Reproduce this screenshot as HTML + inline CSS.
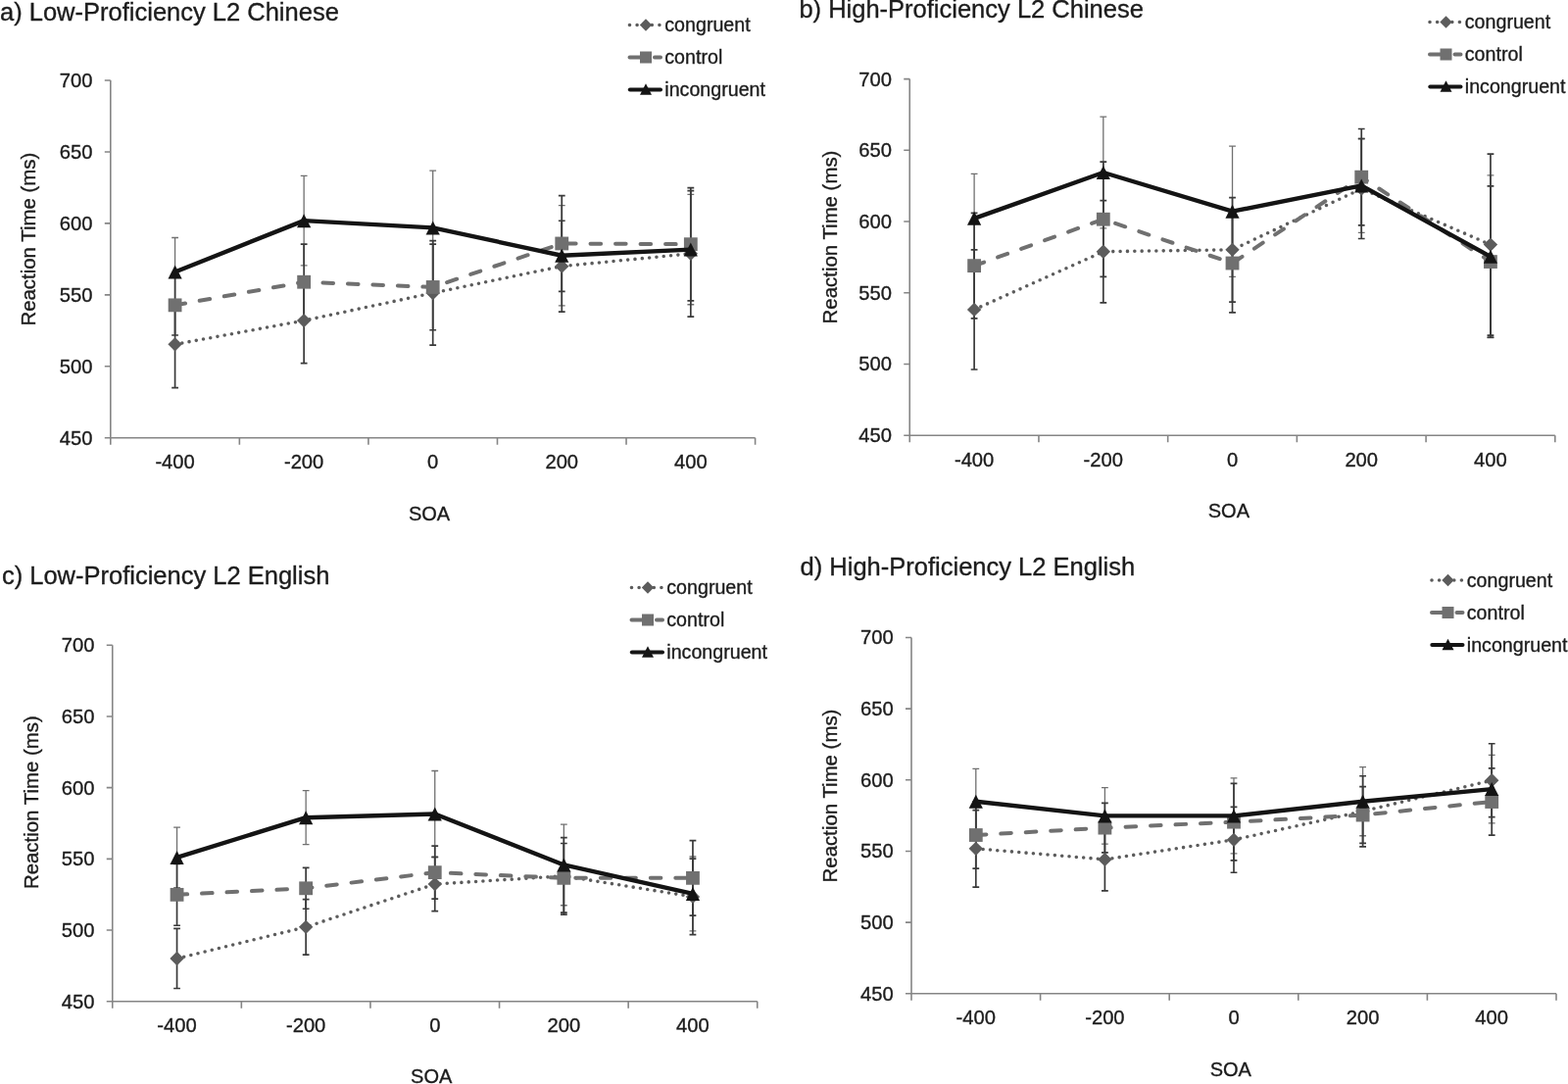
<!DOCTYPE html>
<html><head><meta charset="utf-8"><title>Reaction Time by SOA</title>
<style>
html,body{margin:0;padding:0;background:#fff;}
body{width:1600px;height:1106px;overflow:hidden;}
svg{display:block;}
text{font-family:"Liberation Sans", Arial, Helvetica, sans-serif;font-size:20px;fill:#1c1c1c;stroke:#1c1c1c;stroke-width:0.35px;}
.t{font-size:25.5px;}
.yl{font-size:20.4px;}
.tk{font-size:20.2px;}
.lg{font-size:19.65px;}
</style></head><body>
<svg width="1600" height="1106" viewBox="0 0 1600 1106">
<rect width="1600" height="1106" fill="#fff"/>
<g id="pa"><text x="0" y="20.6" class="t">a) Low-Proficiency L2 Chinese</text>
<path d="M112.8 82V446.75H770.6" fill="none" stroke="#858585" stroke-width="1.6"/>
<path d="M106.8 446.75H112.8 M106.8 373.8H112.8 M106.8 300.85H112.8 M106.8 227.9H112.8 M106.8 154.95H112.8 M106.8 82H112.8 M112.8 446.75V453.75 M244.36 446.75V453.75 M375.92 446.75V453.75 M507.48 446.75V453.75 M639.04 446.75V453.75 M770.6 446.75V453.75" fill="none" stroke="#858585" stroke-width="1.6"/>
<text x="94.5" y="453.65" text-anchor="end" class="tk">450</text>
<text x="94.5" y="380.7" text-anchor="end" class="tk">500</text>
<text x="94.5" y="307.75" text-anchor="end" class="tk">550</text>
<text x="94.5" y="234.8" text-anchor="end" class="tk">600</text>
<text x="94.5" y="161.85" text-anchor="end" class="tk">650</text>
<text x="94.5" y="88.9" text-anchor="end" class="tk">700</text>
<text x="178.58" y="478.05" text-anchor="middle" class="tk">-400</text>
<text x="310.14" y="478.05" text-anchor="middle" class="tk">-200</text>
<text x="441.7" y="478.05" text-anchor="middle" class="tk">0</text>
<text x="573.26" y="478.05" text-anchor="middle" class="tk">200</text>
<text x="704.82" y="478.05" text-anchor="middle" class="tk">400</text>
<text transform="translate(36.4 244.2) rotate(-90)" x="0" y="0" text-anchor="middle" class="yl">Reaction Time (ms)</text>
<text x="438.1" y="530.9" text-anchor="middle">SOA</text>
<path d="M178.58 242.49V312.52M175.18 242.49H181.98M175.18 312.52H181.98 M310.14 179.46V270.79M306.74 179.46H313.54M306.74 270.79H313.54 M441.7 174.06V290.78M438.3 174.06H445.1M438.3 290.78H445.1 M573.26 209.66V311.79M569.86 209.66H576.66M569.86 311.79H576.66 M704.82 198.43V310.77M701.42 198.43H708.22M701.42 310.77H708.22" fill="none" stroke="#707070" stroke-width="1.3"/>
<path d="M178.58 280.72V341.99M175.18 280.72H181.98M175.18 341.99H181.98 M310.14 249.2V326.24M306.74 249.2H313.54M306.74 326.24H313.54 M441.7 249.2V336.74M438.3 249.2H445.1M438.3 336.74H445.1 M573.26 199.6V297.35M569.86 199.6H576.66M569.86 297.35H576.66 M704.82 191.57V306.83M701.42 191.57H708.22M701.42 306.83H708.22" fill="none" stroke="#3a3a3a" stroke-width="1.7"/>
<path d="M178.58 306.98V395.69M175.18 306.98H181.98M175.18 395.69H181.98 M310.14 283.63V370.59M306.74 283.63H313.54M306.74 370.59H313.54 M441.7 245.7V352.21M438.3 245.7H445.1M438.3 352.21H445.1 M573.26 225.27V318.07M569.86 225.27H576.66M569.86 318.07H576.66 M704.82 194.63V323.03M701.42 194.63H708.22M701.42 323.03H708.22" fill="none" stroke="#3a3a3a" stroke-width="1.7"/>
<polyline points="178.58,351.33 310.14,327.11 441.7,298.95 573.26,271.67 704.82,258.83" fill="none" stroke="#5c5c5c" stroke-width="3.6" stroke-linecap="round" stroke-dasharray="0 7.35"/>
<path d="M178.58 344.13L185.78 351.33L178.58 358.53L171.38 351.33Z" fill="#5c5c5c"/><path d="M310.14 319.91L317.34 327.11L310.14 334.31L302.94 327.11Z" fill="#5c5c5c"/><path d="M441.7 291.75L448.9 298.95L441.7 306.15L434.5 298.95Z" fill="#5c5c5c"/><path d="M573.26 264.47L580.46 271.67L573.26 278.87L566.06 271.67Z" fill="#5c5c5c"/><path d="M704.82 251.63L712.02 258.83L704.82 266.03L697.62 258.83Z" fill="#5c5c5c"/>
<polyline points="178.58,311.35 310.14,287.72 441.7,292.97 573.26,248.47 704.82,249.2" fill="none" stroke="#707070" stroke-width="4" stroke-linecap="round" stroke-dasharray="10.6 14.9"/>
<rect x="171.68" y="304.45" width="13.8" height="13.8" fill="#707070"/><rect x="303.24" y="280.82" width="13.8" height="13.8" fill="#707070"/><rect x="434.8" y="286.07" width="13.8" height="13.8" fill="#707070"/><rect x="566.36" y="241.57" width="13.8" height="13.8" fill="#707070"/><rect x="697.92" y="242.3" width="13.8" height="13.8" fill="#707070"/>
<polyline points="178.58,277.51 310.14,225.13 441.7,232.42 573.26,260.73 704.82,254.6" fill="none" stroke="#141414" stroke-width="4.4" stroke-linejoin="round"/>
<path d="M178.58 270.51L185.68 284.51L171.48 284.51Z" fill="#141414"/><path d="M310.14 218.13L317.24 232.13L303.04 232.13Z" fill="#141414"/><path d="M441.7 225.42L448.8 239.42L434.6 239.42Z" fill="#141414"/><path d="M573.26 253.73L580.36 267.73L566.16 267.73Z" fill="#141414"/><path d="M704.82 247.6L711.92 261.6L697.72 261.6Z" fill="#141414"/>
<path d="M642.5 25.5H674" stroke="#5c5c5c" stroke-width="3.6" stroke-linecap="round" stroke-dasharray="0 7.6"/>
<path d="M659 19.3L665.2 25.5L659 31.7L652.8 25.5Z" fill="#5c5c5c"/>
<text x="678.3" y="32" class="lg">congruent</text>
<path d="M642.5 58.5H655M668 58.5H674" stroke="#707070" stroke-width="4" stroke-linecap="round"/>
<rect x="653" y="52.5" width="12" height="12" fill="#707070"/>
<text x="678.3" y="65" class="lg">control</text>
<path d="M642.8 91.5H674" stroke="#141414" stroke-width="4" stroke-linecap="round"/>
<path d="M659 85.15L665 96.65L653 96.65Z" fill="#141414"/>
<text x="678.3" y="98" class="lg">incongruent</text></g>
<g id="pb"><text x="815.4" y="18" class="t">b) High-Proficiency L2 Chinese</text>
<path d="M928.25 80.6V444.2H1586.8" fill="none" stroke="#858585" stroke-width="1.6"/>
<path d="M922.25 444.2H928.25 M922.25 371.48H928.25 M922.25 298.76H928.25 M922.25 226.04H928.25 M922.25 153.32H928.25 M922.25 80.6H928.25 M928.25 444.2V451.2 M1059.96 444.2V451.2 M1191.67 444.2V451.2 M1323.38 444.2V451.2 M1455.09 444.2V451.2 M1586.8 444.2V451.2" fill="none" stroke="#858585" stroke-width="1.6"/>
<text x="909.95" y="451.1" text-anchor="end" class="tk">450</text>
<text x="909.95" y="378.38" text-anchor="end" class="tk">500</text>
<text x="909.95" y="305.66" text-anchor="end" class="tk">550</text>
<text x="909.95" y="232.94" text-anchor="end" class="tk">600</text>
<text x="909.95" y="160.22" text-anchor="end" class="tk">650</text>
<text x="909.95" y="87.5" text-anchor="end" class="tk">700</text>
<text x="994.11" y="475.5" text-anchor="middle" class="tk">-400</text>
<text x="1125.82" y="475.5" text-anchor="middle" class="tk">-200</text>
<text x="1257.53" y="475.5" text-anchor="middle" class="tk">0</text>
<text x="1389.23" y="475.5" text-anchor="middle" class="tk">200</text>
<text x="1520.94" y="475.5" text-anchor="middle" class="tk">400</text>
<text transform="translate(854.2 242) rotate(-90)" x="0" y="0" text-anchor="middle" class="yl">Reaction Time (ms)</text>
<text x="1253.9" y="527.5" text-anchor="middle">SOA</text>
<path d="M994.11 177.32V268.36M990.71 177.32H997.5M990.71 268.36H997.5 M1125.82 119.14V232.88M1122.41 119.14H1129.22M1122.41 232.88H1129.22 M1257.53 149.1V282.33M1254.12 149.1H1260.93M1254.12 282.33H1260.93 M1389.23 141.39V237.38M1385.83 141.39H1392.63M1385.83 237.38H1392.63 M1520.94 178.92V344.72M1517.54 178.92H1524.35M1517.54 344.72H1524.35" fill="none" stroke="#707070" stroke-width="1.3"/>
<path d="M994.11 217.31V324.94M990.71 217.31H997.5M990.71 324.94H997.5 M1125.82 165.1V282.33M1122.41 165.1H1129.22M1122.41 282.33H1129.22 M1257.53 218.19V318.83M1254.12 218.19H1260.93M1254.12 318.83H1260.93 M1389.23 131.5V229.82M1385.83 131.5H1392.63M1385.83 229.82H1392.63 M1520.94 189.97V344.14M1517.54 189.97H1524.35M1517.54 344.14H1524.35" fill="none" stroke="#3a3a3a" stroke-width="1.7"/>
<path d="M994.11 254.84V377.01M990.71 254.84H997.5M990.71 377.01H997.5 M1125.82 204.66V308.8M1122.41 204.66H1129.22M1122.41 308.8H1129.22 M1257.53 201.61V308.07M1254.12 201.61H1260.93M1254.12 308.07H1260.93 M1389.23 141.68V243.49M1385.83 141.68H1392.63M1385.83 243.49H1392.63 M1520.94 157.1V342.1M1517.54 157.1H1524.35M1517.54 342.1H1524.35" fill="none" stroke="#3a3a3a" stroke-width="1.7"/>
<polyline points="994.11,315.92 1125.82,256.73 1257.53,254.84 1389.23,192.59 1520.94,249.6" fill="none" stroke="#5c5c5c" stroke-width="3.6" stroke-linecap="round" stroke-dasharray="0 7.35"/>
<path d="M994.11 308.72L1001.31 315.92L994.11 323.12L986.9 315.92Z" fill="#5c5c5c"/><path d="M1125.82 249.53L1133.02 256.73L1125.82 263.93L1118.62 256.73Z" fill="#5c5c5c"/><path d="M1257.53 247.64L1264.73 254.84L1257.53 262.04L1250.33 254.84Z" fill="#5c5c5c"/><path d="M1389.23 185.39L1396.43 192.59L1389.23 199.79L1382.03 192.59Z" fill="#5c5c5c"/><path d="M1520.94 242.4L1528.14 249.6L1520.94 256.8L1513.74 249.6Z" fill="#5c5c5c"/>
<polyline points="994.11,271.13 1125.82,223.71 1257.53,268.51 1389.23,180.66 1520.94,267.05" fill="none" stroke="#707070" stroke-width="4" stroke-linecap="round" stroke-dasharray="10.6 14.9"/>
<rect x="987.21" y="264.23" width="13.8" height="13.8" fill="#707070"/><rect x="1118.91" y="216.81" width="13.8" height="13.8" fill="#707070"/><rect x="1250.62" y="261.61" width="13.8" height="13.8" fill="#707070"/><rect x="1382.33" y="173.76" width="13.8" height="13.8" fill="#707070"/><rect x="1514.04" y="260.15" width="13.8" height="13.8" fill="#707070"/>
<polyline points="994.11,222.84 1125.82,176.01 1257.53,215.71 1389.23,189.39 1520.94,261.82" fill="none" stroke="#141414" stroke-width="4.4" stroke-linejoin="round"/>
<path d="M994.11 215.84L1001.21 229.84L987 229.84Z" fill="#141414"/><path d="M1125.82 169.01L1132.91 183.01L1118.72 183.01Z" fill="#141414"/><path d="M1257.53 208.71L1264.62 222.71L1250.43 222.71Z" fill="#141414"/><path d="M1389.23 182.39L1396.33 196.39L1382.13 196.39Z" fill="#141414"/><path d="M1520.94 254.82L1528.04 268.82L1513.85 268.82Z" fill="#141414"/>
<path d="M1459 22.5H1490.5" stroke="#5c5c5c" stroke-width="3.6" stroke-linecap="round" stroke-dasharray="0 7.6"/>
<path d="M1475.5 16.3L1481.7 22.5L1475.5 28.7L1469.3 22.5Z" fill="#5c5c5c"/>
<text x="1494.8" y="29" class="lg">congruent</text>
<path d="M1459 55.5H1471.5M1484.5 55.5H1490.5" stroke="#707070" stroke-width="4" stroke-linecap="round"/>
<rect x="1469.5" y="49.5" width="12" height="12" fill="#707070"/>
<text x="1494.8" y="62" class="lg">control</text>
<path d="M1459.3 88.5H1490.5" stroke="#141414" stroke-width="4" stroke-linecap="round"/>
<path d="M1475.5 82.15L1481.5 93.65L1469.5 93.65Z" fill="#141414"/>
<text x="1494.8" y="95" class="lg">incongruent</text></g>
<g id="pc"><text x="1.9" y="595.75" class="t">c) Low-Proficiency L2 English</text>
<path d="M114.75 658.25V1021.75H772.75" fill="none" stroke="#858585" stroke-width="1.6"/>
<path d="M108.75 1021.75H114.75 M108.75 949.05H114.75 M108.75 876.35H114.75 M108.75 803.65H114.75 M108.75 730.95H114.75 M108.75 658.25H114.75 M114.75 1021.75V1028.75 M246.35 1021.75V1028.75 M377.95 1021.75V1028.75 M509.55 1021.75V1028.75 M641.15 1021.75V1028.75 M772.75 1021.75V1028.75" fill="none" stroke="#858585" stroke-width="1.6"/>
<text x="96.45" y="1028.65" text-anchor="end" class="tk">450</text>
<text x="96.45" y="955.95" text-anchor="end" class="tk">500</text>
<text x="96.45" y="883.25" text-anchor="end" class="tk">550</text>
<text x="96.45" y="810.55" text-anchor="end" class="tk">600</text>
<text x="96.45" y="737.85" text-anchor="end" class="tk">650</text>
<text x="96.45" y="665.15" text-anchor="end" class="tk">700</text>
<text x="180.55" y="1053.05" text-anchor="middle" class="tk">-400</text>
<text x="312.15" y="1053.05" text-anchor="middle" class="tk">-200</text>
<text x="443.75" y="1053.05" text-anchor="middle" class="tk">0</text>
<text x="575.35" y="1053.05" text-anchor="middle" class="tk">200</text>
<text x="706.95" y="1053.05" text-anchor="middle" class="tk">400</text>
<text transform="translate(38.6 818.7) rotate(-90)" x="0" y="0" text-anchor="middle" class="yl">Reaction Time (ms)</text>
<text x="440.2" y="1105" text-anchor="middle">SOA</text>
<path d="M180.55 844.07V905.72M177.15 844.07H183.95M177.15 905.72H183.95 M312.15 806.7V861.66M308.75 806.7H315.55M308.75 861.66H315.55 M443.75 786.49V874.61M440.35 786.49H447.15M440.35 874.61H447.15 M575.35 841.16V923.75M571.95 841.16H578.75M571.95 923.75H578.75 M706.95 874.02V949.92M703.55 874.02H710.35M703.55 949.92H710.35" fill="none" stroke="#707070" stroke-width="1.3"/>
<path d="M180.55 881.44V944.25M177.15 881.44H183.95M177.15 944.25H183.95 M312.15 885.36V927.24M308.75 885.36H315.55M308.75 927.24H315.55 M443.75 863.12V917.21M440.35 863.12H447.15M440.35 917.21H447.15 M575.35 860.5V931.17M571.95 860.5H578.75M571.95 931.17H578.75 M706.95 857.59V934.07M703.55 857.59H710.35M703.55 934.07H710.35" fill="none" stroke="#3a3a3a" stroke-width="1.7"/>
<path d="M180.55 947.45V1008.52M177.15 947.45H183.95M177.15 1008.52H183.95 M312.15 917.64V974.06M308.75 917.64H315.55M308.75 974.06H315.55 M443.75 874.46V929.71M440.35 874.46H447.15M440.35 929.71H447.15 M575.35 854.54V933.06M571.95 854.54H578.75M571.95 933.06H578.75 M706.95 876.2V953.56M703.55 876.2H710.35M703.55 953.56H710.35" fill="none" stroke="#3a3a3a" stroke-width="1.7"/>
<polyline points="180.55,977.98 312.15,945.85 443.75,902.09 575.35,893.8 706.95,914.88" fill="none" stroke="#5c5c5c" stroke-width="3.6" stroke-linecap="round" stroke-dasharray="0 7.35"/>
<path d="M180.55 970.78L187.75 977.98L180.55 985.18L173.35 977.98Z" fill="#5c5c5c"/><path d="M312.15 938.65L319.35 945.85L312.15 953.05L304.95 945.85Z" fill="#5c5c5c"/><path d="M443.75 894.89L450.95 902.09L443.75 909.29L436.55 902.09Z" fill="#5c5c5c"/><path d="M575.35 886.6L582.55 893.8L575.35 901L568.15 893.8Z" fill="#5c5c5c"/><path d="M706.95 907.68L714.15 914.88L706.95 922.08L699.75 914.88Z" fill="#5c5c5c"/>
<polyline points="180.55,912.85 312.15,906.3 443.75,890.16 575.35,895.83 706.95,895.83" fill="none" stroke="#707070" stroke-width="4" stroke-linecap="round" stroke-dasharray="10.6 14.9"/>
<rect x="173.65" y="905.95" width="13.8" height="13.8" fill="#707070"/><rect x="305.25" y="899.4" width="13.8" height="13.8" fill="#707070"/><rect x="436.85" y="883.26" width="13.8" height="13.8" fill="#707070"/><rect x="568.45" y="888.93" width="13.8" height="13.8" fill="#707070"/><rect x="700.05" y="888.93" width="13.8" height="13.8" fill="#707070"/>
<polyline points="180.55,874.9 312.15,834.18 443.75,830.55 575.35,882.46 706.95,911.97" fill="none" stroke="#141414" stroke-width="4.4" stroke-linejoin="round"/>
<path d="M180.55 867.9L187.65 881.9L173.45 881.9Z" fill="#141414"/><path d="M312.15 827.18L319.25 841.18L305.05 841.18Z" fill="#141414"/><path d="M443.75 823.55L450.85 837.55L436.65 837.55Z" fill="#141414"/><path d="M575.35 875.46L582.45 889.46L568.25 889.46Z" fill="#141414"/><path d="M706.95 904.97L714.05 918.97L699.85 918.97Z" fill="#141414"/>
<path d="M644.5 599.5H676" stroke="#5c5c5c" stroke-width="3.6" stroke-linecap="round" stroke-dasharray="0 7.6"/>
<path d="M661 593.3L667.2 599.5L661 605.7L654.8 599.5Z" fill="#5c5c5c"/>
<text x="680.3" y="606" class="lg">congruent</text>
<path d="M644.5 632.5H657M670 632.5H676" stroke="#707070" stroke-width="4" stroke-linecap="round"/>
<rect x="655" y="626.5" width="12" height="12" fill="#707070"/>
<text x="680.3" y="639" class="lg">control</text>
<path d="M644.8 665.5H676" stroke="#141414" stroke-width="4" stroke-linecap="round"/>
<path d="M661 659.15L667 670.65L655 670.65Z" fill="#141414"/>
<text x="680.3" y="672" class="lg">incongruent</text></g>
<g id="pd"><text x="816.6" y="586.75" class="t">d) High-Proficiency L2 English</text>
<path d="M930 650.5V1013.75H1588" fill="none" stroke="#858585" stroke-width="1.6"/>
<path d="M924 1013.75H930 M924 941.1H930 M924 868.45H930 M924 795.8H930 M924 723.15H930 M924 650.5H930 M930 1013.75V1020.75 M1061.6 1013.75V1020.75 M1193.2 1013.75V1020.75 M1324.8 1013.75V1020.75 M1456.4 1013.75V1020.75 M1588 1013.75V1020.75" fill="none" stroke="#858585" stroke-width="1.6"/>
<text x="911.7" y="1020.65" text-anchor="end" class="tk">450</text>
<text x="911.7" y="948" text-anchor="end" class="tk">500</text>
<text x="911.7" y="875.35" text-anchor="end" class="tk">550</text>
<text x="911.7" y="802.7" text-anchor="end" class="tk">600</text>
<text x="911.7" y="730.05" text-anchor="end" class="tk">650</text>
<text x="911.7" y="657.4" text-anchor="end" class="tk">700</text>
<text x="995.8" y="1045.05" text-anchor="middle" class="tk">-400</text>
<text x="1127.4" y="1045.05" text-anchor="middle" class="tk">-200</text>
<text x="1259" y="1045.05" text-anchor="middle" class="tk">0</text>
<text x="1390.6" y="1045.05" text-anchor="middle" class="tk">200</text>
<text x="1522.2" y="1045.05" text-anchor="middle" class="tk">400</text>
<text transform="translate(854.2 812) rotate(-90)" x="0" y="0" text-anchor="middle" class="yl">Reaction Time (ms)</text>
<text x="1255.8" y="1097.8" text-anchor="middle">SOA</text>
<path d="M995.8 784.47V851.01M992.4 784.47H999.2M992.4 851.01H999.2 M1127.4 803.65V861.18M1124 803.65H1130.8M1124 861.18H1130.8 M1259 793.91V870.92M1255.6 793.91H1262.4M1255.6 870.92H1262.4 M1390.6 782.72V852.76M1387.2 782.72H1394M1387.2 852.76H1394 M1522.2 770.37V839.83M1518.8 770.37H1525.6M1518.8 839.83H1525.6" fill="none" stroke="#707070" stroke-width="1.3"/>
<path d="M995.8 817.89V886.18M992.4 817.89H999.2M992.4 886.18H999.2 M1127.4 819.34V869.9M1124 819.34H1130.8M1124 869.9H1130.8 M1259 799.43V877.89M1255.6 799.43H1262.4M1255.6 877.89H1262.4 M1390.6 802.63V860.46M1387.2 802.63H1394M1387.2 860.46H1394 M1522.2 783.89V852.18M1518.8 783.89H1525.6M1518.8 852.18H1525.6" fill="none" stroke="#3a3a3a" stroke-width="1.7"/>
<path d="M995.8 826.6V905.07M992.4 826.6H999.2M992.4 905.07H999.2 M1127.4 844.91V908.84M1124 844.91H1130.8M1124 908.84H1130.8 M1259 823.41V890.25M1255.6 823.41H1262.4M1255.6 890.25H1262.4 M1390.6 791.73V863.8M1387.2 791.73H1394M1387.2 863.8H1394 M1522.2 758.75V833.72M1518.8 758.75H1525.6M1518.8 833.72H1525.6" fill="none" stroke="#3a3a3a" stroke-width="1.7"/>
<polyline points="995.8,865.83 1127.4,876.88 1259,856.83 1390.6,827.77 1522.2,796.24" fill="none" stroke="#5c5c5c" stroke-width="3.6" stroke-linecap="round" stroke-dasharray="0 7.35"/>
<path d="M995.8 858.63L1003 865.83L995.8 873.03L988.6 865.83Z" fill="#5c5c5c"/><path d="M1127.4 869.68L1134.6 876.88L1127.4 884.08L1120.2 876.88Z" fill="#5c5c5c"/><path d="M1259 849.63L1266.2 856.83L1259 864.03L1251.8 856.83Z" fill="#5c5c5c"/><path d="M1390.6 820.57L1397.8 827.77L1390.6 834.97L1383.4 827.77Z" fill="#5c5c5c"/><path d="M1522.2 789.04L1529.4 796.24L1522.2 803.44L1515 796.24Z" fill="#5c5c5c"/>
<polyline points="995.8,852.03 1127.4,844.62 1259,838.66 1390.6,831.54 1522.2,818.03" fill="none" stroke="#707070" stroke-width="4" stroke-linecap="round" stroke-dasharray="10.6 14.9"/>
<rect x="988.9" y="845.13" width="13.8" height="13.8" fill="#707070"/><rect x="1120.5" y="837.72" width="13.8" height="13.8" fill="#707070"/><rect x="1252.1" y="831.76" width="13.8" height="13.8" fill="#707070"/><rect x="1383.7" y="824.64" width="13.8" height="13.8" fill="#707070"/><rect x="1515.3" y="811.13" width="13.8" height="13.8" fill="#707070"/>
<polyline points="995.8,817.74 1127.4,832.42 1259,832.42 1390.6,817.74 1522.2,805.1" fill="none" stroke="#141414" stroke-width="4.4" stroke-linejoin="round"/>
<path d="M995.8 810.74L1002.9 824.74L988.7 824.74Z" fill="#141414"/><path d="M1127.4 825.42L1134.5 839.42L1120.3 839.42Z" fill="#141414"/><path d="M1259 825.42L1266.1 839.42L1251.9 839.42Z" fill="#141414"/><path d="M1390.6 810.74L1397.7 824.74L1383.5 824.74Z" fill="#141414"/><path d="M1522.2 798.1L1529.3 812.1L1515.1 812.1Z" fill="#141414"/>
<path d="M1461 592H1492.5" stroke="#5c5c5c" stroke-width="3.6" stroke-linecap="round" stroke-dasharray="0 7.6"/>
<path d="M1477.5 585.8L1483.7 592L1477.5 598.2L1471.3 592Z" fill="#5c5c5c"/>
<text x="1496.8" y="598.5" class="lg">congruent</text>
<path d="M1461 625H1473.5M1486.5 625H1492.5" stroke="#707070" stroke-width="4" stroke-linecap="round"/>
<rect x="1471.5" y="619" width="12" height="12" fill="#707070"/>
<text x="1496.8" y="631.5" class="lg">control</text>
<path d="M1461.3 658H1492.5" stroke="#141414" stroke-width="4" stroke-linecap="round"/>
<path d="M1477.5 651.65L1483.5 663.15L1471.5 663.15Z" fill="#141414"/>
<text x="1496.8" y="664.5" class="lg">incongruent</text></g>
</svg>
</body></html>
